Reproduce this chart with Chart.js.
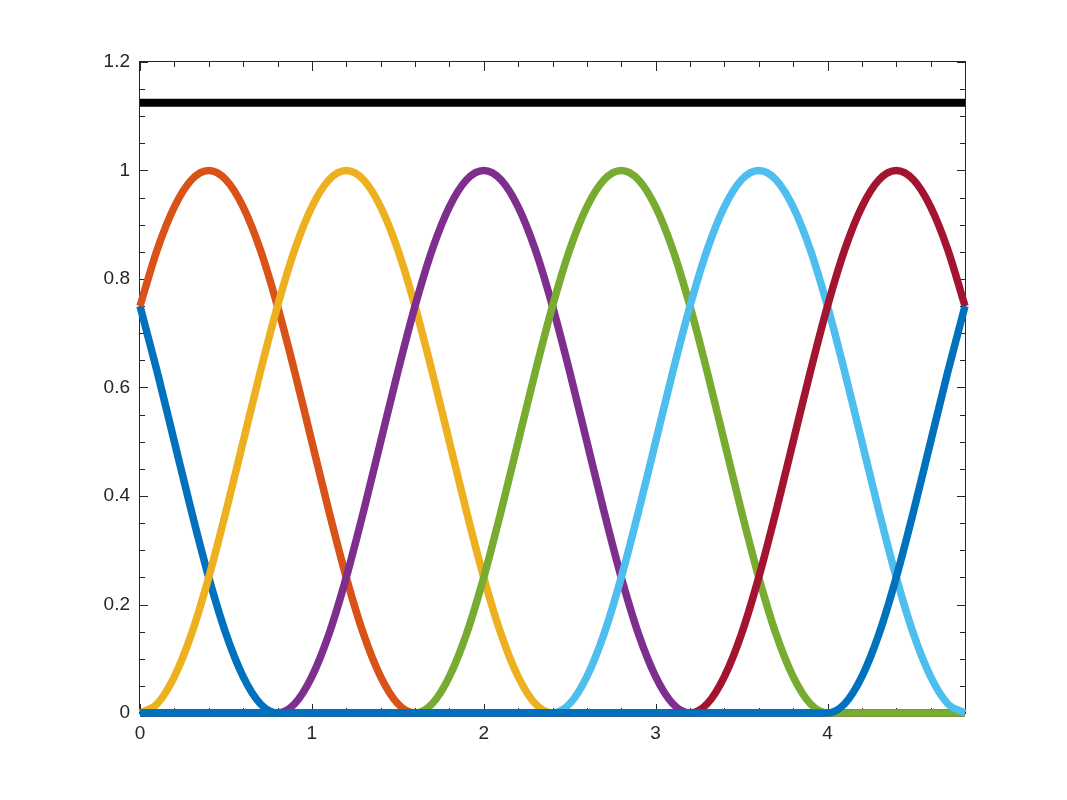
<!DOCTYPE html>
<html>
<head>
<meta charset="utf-8">
<script src="https://cdn.jsdelivr.net/npm/chart.js@4.4.0/dist/chart.umd.min.js"></script>
<style>
  html, body { margin: 0; padding: 0; background: #fff; }
</style>
</head>
<body>
<canvas id="grafico" width="1067" height="800"></canvas>
<script>
// valores (x de 0 a 4.8, passo 0.1)
const xs = [
  0, 0.1, 0.2, 0.3, 0.4, 0.5, 0.6, 0.7, 0.8, 0.9,
  1, 1.1, 1.2, 1.3, 1.4, 1.5, 1.6, 1.7, 1.8, 1.9,
  2, 2.1, 2.2, 2.3, 2.4, 2.5, 2.6, 2.7, 2.8, 2.9,
  3, 3.1, 3.2, 3.3, 3.4, 3.5, 3.6, 3.7, 3.8, 3.9,
  4, 4.1, 4.2, 4.3, 4.4, 4.5, 4.6, 4.7, 4.8
];

const azul1 = [
  .75, .629, .5, .371, .25, .146, .067, .017, 0,
  0, 0, 0, 0, 0, 0, 0, 0,
  0, 0, 0, 0, 0, 0, 0, 0,
  0, 0, 0, 0, 0, 0, 0, 0,
  0, 0, 0, 0, 0, 0, 0, 0,
  0, 0, 0, 0, 0, 0, 0, 0
];
const laranja = [
  .75, .854, .933, .983, 1, .983, .933, .854, .75, .629, .5, .371, .25, .146, .067, .017, 0,
  0, 0, 0, 0, 0, 0, 0, 0,
  0, 0, 0, 0, 0, 0, 0, 0,
  0, 0, 0, 0, 0, 0, 0, 0,
  0, 0, 0, 0, 0, 0, 0, 0
];
const amarelo = [
  0, .017, .067, .146, .25, .371, .5, .629, .75, .854, .933, .983, 1,
  .983, .933, .854, .75, .629, .5, .371, .25, .146, .067, .017, 0,
  0, 0, 0, 0, 0, 0, 0, 0,
  0, 0, 0, 0, 0, 0, 0, 0,
  0, 0, 0, 0, 0, 0, 0, 0
];
const roxo = [
  0, 0, 0, 0, 0, 0, 0, 0,
  0, .017, .067, .146, .25, .371, .5, .629, .75, .854, .933, .983, 1,
  .983, .933, .854, .75, .629, .5, .371, .25, .146, .067, .017, 0,
  0, 0, 0, 0, 0, 0, 0, 0,
  0, 0, 0, 0, 0, 0, 0, 0
];
const verde = [
  0, 0, 0, 0, 0, 0, 0, 0,
  0, 0, 0, 0, 0, 0, 0, 0,
  0, .017, .067, .146, .25, .371, .5, .629, .75, .854, .933, .983, 1,
  .983, .933, .854, .75, .629, .5, .371, .25, .146, .067, .017, 0,
  0, 0, 0, 0, 0, 0, 0, 0
];
const celeste = [
  0, 0, 0, 0, 0, 0, 0, 0,
  0, 0, 0, 0, 0, 0, 0, 0,
  0, 0, 0, 0, 0, 0, 0, 0,
  0, .017, .067, .146, .25, .371, .5, .629, .75, .854, .933, .983, 1,
  .983, .933, .854, .75, .629, .5, .371, .25, .146, .067, .017, 0
];
const vermelho = [
  0, 0, 0, 0, 0, 0, 0, 0,
  0, 0, 0, 0, 0, 0, 0, 0,
  0, 0, 0, 0, 0, 0, 0, 0,
  0, 0, 0, 0, 0, 0, 0, 0,
  0, .017, .067, .146, .25, .371, .5, .629, .75, .854, .933, .983, 1, .983, .933, .854, .75
];
const azul2 = [
  0, 0, 0, 0, 0, 0, 0, 0,
  0, 0, 0, 0, 0, 0, 0, 0,
  0, 0, 0, 0, 0, 0, 0, 0,
  0, 0, 0, 0, 0, 0, 0, 0,
  0, 0, 0, 0, 0, 0, 0, 0,
  0, .017, .067, .146, .25, .371, .5, .629, .75
];
const soma = [
  1.125, 1.125, 1.125, 1.125, 1.125, 1.125, 1.125, 1.125, 1.125, 1.125,
  1.125, 1.125, 1.125, 1.125, 1.125, 1.125, 1.125, 1.125, 1.125, 1.125,
  1.125, 1.125, 1.125, 1.125, 1.125, 1.125, 1.125, 1.125, 1.125, 1.125,
  1.125, 1.125, 1.125, 1.125, 1.125, 1.125, 1.125, 1.125, 1.125, 1.125,
  1.125, 1.125, 1.125, 1.125, 1.125, 1.125, 1.125, 1.125, 1.125
];

const xTicks = [0, 1, 2, 3, 4];
const yTicks = [0, 0.2, 0.4, 0.6, 0.8, 1, 1.2];

// ordem de desenho do MATLAB (o primeiro fica por baixo)
const series = [azul1, laranja, amarelo, roxo, verde, celeste, vermelho, azul2, soma];
const cores = ['#0072BD', '#D95319', '#EDB120', '#7E2F8E', '#77AC30', '#4DBEEE', '#A2142F', '#0072BD', '#000000'];

const datasets = series.map((s, i) => ({
  data: s.map((v, j) => ({ x: xs[j], y: v })),
  borderColor: cores[i],
  borderWidth: i === 8 ? 8 : 7.5,
  pointRadius: 0,
  cubicInterpolationMode: 'monotone',
  borderJoinStyle: 'round',
  fill: false,
  clip: false,
  order: series.length - i
}));

// caixa e marcas para dentro, nos quatro lados
const eixos = {
  id: 'eixos',
  beforeDatasetsDraw(chart) {
    const { ctx, chartArea: a, scales: { x, y } } = chart;
    ctx.save();
    ctx.strokeStyle = '#262626';
    ctx.lineWidth = 1;
    ctx.strokeRect(a.left - 0.5, a.top - 0.5, a.right - a.left + 1, a.bottom - a.top + 1);
    ctx.beginPath();
    for (let k = 0; k <= 24; k++) {
      const v = k * 0.2;
      const px = Math.round(x.getPixelForValue(v)) + 0.5;
      const len = k % 5 === 0 ? 9 : 5;
      ctx.moveTo(px, a.bottom); ctx.lineTo(px, a.bottom - len);
      ctx.moveTo(px, a.top); ctx.lineTo(px, a.top + len);
    }
    for (let k = 0; k <= 24; k++) {
      const v = k * 0.05;
      const py = Math.round(y.getPixelForValue(v)) + 0.5;
      const len = k % 4 === 0 ? 8 : 5;
      ctx.moveTo(a.left, py); ctx.lineTo(a.left + len, py);
      ctx.moveTo(a.right, py); ctx.lineTo(a.right - len, py);
    }
    ctx.stroke();
    ctx.restore();
  }
};

const fonte = { family: '"Liberation Sans", Arial, sans-serif', size: 19 };

new Chart(document.getElementById('grafico'), {
  type: 'line',
  data: { datasets: datasets },
  options: {
    responsive: false,
    animation: false,
    layout: { padding: { left: 0, right: 102, top: 62, bottom: 0 } },
    plugins: { legend: { display: false }, tooltip: { enabled: false } },
    scales: {
      x: {
        type: 'linear',
        min: 0,
        max: 4.8,
        grid: { display: false, drawTicks: false },
        border: { display: false },
        afterBuildTicks: s => { s.ticks = xTicks.map(v => ({ value: v })); },
        afterFit: s => { s.height = 87; },
        ticks: { color: '#262626', font: fonte, padding: 9, maxRotation: 0, autoSkip: false,
                 callback: v => String(v) }
      },
      y: {
        min: 0,
        max: 1.2,
        grid: { display: false, drawTicks: false },
        border: { display: false },
        afterBuildTicks: s => { s.ticks = yTicks.map(v => ({ value: v })); },
        afterFit: s => { s.width = 140; },
        ticks: { color: '#262626', font: fonte, padding: 10, autoSkip: false,
                 callback: v => String(v) }
      }
    }
  },
  plugins: [eixos]
});
</script>
</body>
</html>
